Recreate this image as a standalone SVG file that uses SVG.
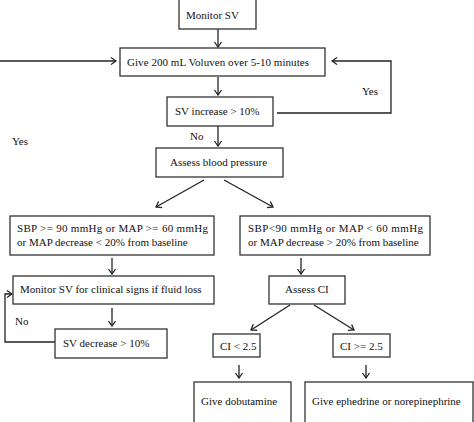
<svg xmlns="http://www.w3.org/2000/svg" width="474" height="422" viewBox="0 0 474 422">
<defs>
<style>
.box{fill:#fff;stroke:#333;stroke-width:1.3}
.t{font-family:"Liberation Serif","Times New Roman",serif;font-size:11px;fill:#111}
.c{fill:none;stroke:#222;stroke-width:1.3}
</style>
<marker id="ah" markerUnits="userSpaceOnUse" viewBox="-7 -5 8 10" refX="0" refY="0" markerWidth="8" markerHeight="10" orient="auto">
<path d="M-5,-3.5 L0,0 L-5,3.5" fill="none" stroke="#222" stroke-width="1.3"/>
</marker>
</defs>
<rect width="474" height="422" fill="#fff"/>
<g id="connectors">
<path class="c" d="M218,29 V47" marker-end="url(#ah)"/>
<path class="c" d="M0,61 H116" marker-end="url(#ah)"/>
<path class="c" d="M277,113 H391 V61 H332" marker-end="url(#ah)"/>
<path class="c" d="M218,77 V95" marker-end="url(#ah)"/>
<path class="c" d="M218,126 V146" marker-end="url(#ah)"/>
<path class="c" d="M204,180 L156,207" marker-end="url(#ah)"/>
<path class="c" d="M224,180 L273,207" marker-end="url(#ah)"/>
<path class="c" d="M112,258 V274" marker-end="url(#ah)"/>
<path class="c" d="M301,258 V274" marker-end="url(#ah)"/>
<path class="c" d="M112,308 V326" marker-end="url(#ah)"/>
<path class="c" d="M55,342 H5 V294 H12" marker-end="url(#ah)"/>
<path class="c" d="M290,305 L251,330" marker-end="url(#ah)"/>
<path class="c" d="M314,305 L354,330" marker-end="url(#ah)"/>
<path class="c" d="M239,365 V378" marker-end="url(#ah)"/>
<path class="c" d="M366,365 V378" marker-end="url(#ah)"/>
<text class="t" x="362" y="95">Yes</text>
<text class="t" x="190" y="140">No</text>
<text class="t" x="12" y="145">Yes</text>
<text class="t" x="15" y="325">No</text>
</g>
<g id="monitor-sv"><rect class="box" x="179" y="-1" width="77" height="30"/><text class="t" x="186" y="19">Monitor SV</text></g>
<g id="give-voluven"><rect class="box" x="120" y="48" width="205" height="28"/><text class="t" x="127" y="66" textLength="182" lengthAdjust="spacing">Give 200 mL Voluven over 5-10 minutes</text></g>
<g id="sv-increase"><rect class="box" x="167" y="97" width="106" height="29"/><text class="t" x="175" y="115">SV increase &gt; 10%</text></g>
<g id="assess-bp"><rect class="box" x="156" y="148" width="127" height="29"/><text class="t" x="170" y="166">Assess blood pressure</text></g>
<g id="sbp-ok"><rect class="box" x="10" y="216" width="204" height="39"/><text class="t" x="17" y="232" textLength="191" lengthAdjust="spacing">SBP &gt;= 90 mmHg or MAP &gt;= 60 mmHg</text><text class="t" x="17" y="246">or MAP decrease &lt; 20% from baseline</text></g>
<g id="sbp-low"><rect class="box" x="240" y="216" width="190" height="39"/><text class="t" x="248" y="232" textLength="175" lengthAdjust="spacing">SBP&lt;90 mmHg or MAP &lt; 60 mmHg</text><text class="t" x="248" y="246">or MAP decrease &gt; 20% from baseline</text></g>
<g id="monitor-clinical"><rect class="box" x="13" y="276" width="201" height="28"/><text class="t" x="20" y="293">Monitor SV for clinical signs if fluid loss</text></g>
<g id="assess-ci"><rect class="box" x="269" y="276" width="76" height="28"/><text class="t" x="285" y="293">Assess CI</text></g>
<g id="sv-decrease"><rect class="box" x="55" y="329" width="112" height="29"/><text class="t" x="63" y="347">SV decrease &gt; 10%</text></g>
<g id="ci-low"><rect class="box" x="213" y="334" width="47" height="23"/><text class="t" x="220" y="350">CI &lt; 2.5</text></g>
<g id="ci-high"><rect class="box" x="333" y="334" width="57" height="23"/><text class="t" x="340" y="350">CI &gt;= 2.5</text></g>
<g id="dobutamine"><rect class="box" x="194" y="382" width="97" height="50"/><text class="t" x="201" y="405">Give dobutamine</text></g>
<g id="ephedrine"><rect class="box" x="305" y="382" width="168" height="50"/><text class="t" x="312" y="405">Give ephedrine or norepinephrine</text></g>
</svg>
